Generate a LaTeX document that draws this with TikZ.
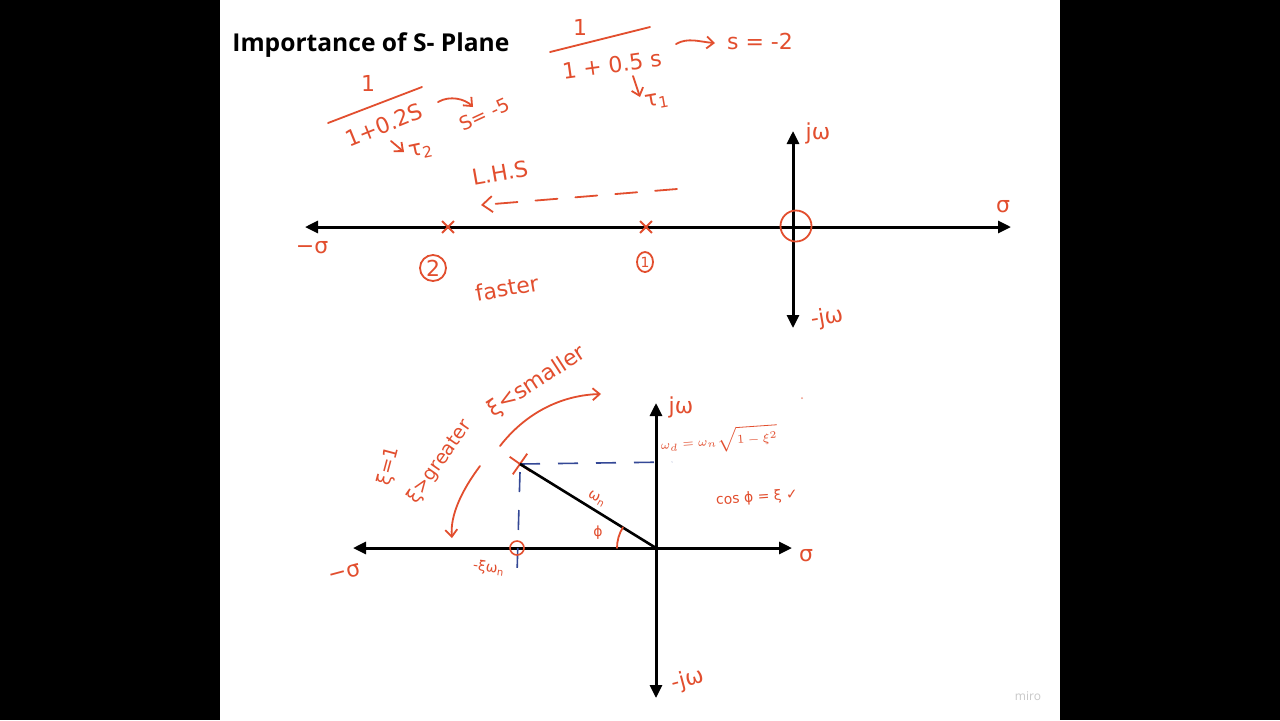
\documentclass[tikz,border=0pt]{standalone}
\usepackage{fontspec}
\setmainfont{Open Sans}
\newfontfamily\handf{DejaVu Sans}
\usetikzlibrary{arrows.meta,shapes.misc,shapes.geometric}
\definecolor{hand}{RGB}{226,78,46}
\definecolor{dashblue}{RGB}{52,72,150}
\definecolor{wm}{RGB}{200,200,200}
\begin{document}
\begin{tikzpicture}[x=0.5pt,y=-0.5pt,
  axis/.style={line width=1.5pt,-{Triangle[length=6.5pt,width=6pt]}},
  hw/.style={text=hand,font=\handf\fontsize{11}{13}\selectfont,inner sep=0pt},
  hwm/.style={text=hand,font=\handf\fontsize{9.5}{11}\selectfont,inner sep=0pt},
  hws/.style={text=hand,font=\handf\fontsize{7}{8}\selectfont,inner sep=0pt},
  hline/.style={draw=hand,line width=0.9pt,line cap=round},
  harrow/.style={hline,-{Straight Barb[length=3.5pt,width=6pt]}},
  xmark/.style={cross out,draw=hand,line width=0.9pt,inner sep=0pt},
  bluedash/.style={draw=dashblue,line width=0.8pt,dash pattern=on 10pt off 9pt}]
% page
\fill[black] (0,0) rectangle (1280,720);
\fill[white] (220,0) rectangle (1060,720);
\useasboundingbox (0,0) rectangle (1280,720);
% title
\node[anchor=west,inner sep=0pt,font=\bfseries\fontsize{12.3}{14}\selectfont] (title) at (232,45) {Importance of S- Plane};
% ---------- upper axes ----------
\coordinate (uo) at (793,227);
\coordinate (uL) at (305,227);
\coordinate (uR) at (1011,227);
\coordinate (uT) at (793,131);
\coordinate (uB) at (793,328);
\draw[axis] (uo) -- (uL);
\draw[axis] (uo) -- (uR);
\draw[axis] (uo) -- (uT);
\draw[axis] (uo) -- (uB);
\node[hw] (ujw) at (818,133) {jω};
\node[hw] (usig) at (1003,207) {σ};
\node[hw,rotate=10] (unjw) at (827,318) {-jω};
\node[hw] (unsig) at (312,248) {−σ};
\node[circle,draw=hand,line width=0.9pt,minimum size=15.5pt,inner sep=0pt] (oc) at (796,226) {};
% poles
\node[xmark,minimum size=5pt] (p2) at (448,227) {};
\node[xmark,minimum size=5pt] (p1) at (646,227) {};
\node[circle,draw=hand,line width=0.9pt,minimum size=13pt,inner sep=0pt,hw] (c2) at (433,268) {2};
\node[ellipse,draw=hand,line width=0.9pt,minimum width=8pt,minimum height=10pt,inner sep=0pt,hws] (c1) at (645,262) {1};
\node[hw,rotate=10] (fast) at (507,288) {faster};
% LHS arrow
\node[hw,rotate=10] (lhs) at (500,173) {L.H.S};
\coordinate (lhsR) at (677,189);
\coordinate (lhsL) at (481,205);
\draw[hline,dash pattern=on 11pt off 9pt,-{Straight Barb[length=5pt,width=8pt]}] (lhsR) -- (lhsL);
% top fraction 1/(1+0.5s)
\node[hw] (f1num) at (580,27) {1};
\draw[hline] (550,52) -- (650,27);
\node[hw,rotate=8] (f1den) at (612,65) {1 + 0.5 s};
\node[hw] (s2) at (760,41) {s = -2};
\coordinate (a1s) at (676,44);
\coordinate (a1e) at (715,43);
\draw[harrow] (a1s) .. controls (688,37) and (700,42) .. (a1e);
\coordinate (d1s) at (633,76);
\coordinate (d1e) at (640,97);
\draw[harrow] (d1s) -- (d1e);
\node[hw,rotate=10] (tau1) at (657,101) {τ\textsubscript{1}};
% left fraction 1/(1+0.2s)
\node[hw] (f2num) at (368,83) {1};
\draw[hline] (328,123) -- (422,87);
\node[hw,rotate=22] (f2den) at (384,125) {1+0.2S};
\coordinate (a2s) at (438,102);
\coordinate (a2e) at (473,107);
\draw[harrow] (a2s) .. controls (450,95) and (465,99) .. (a2e);
\node[hwm,rotate=25] (s5) at (485,114) {S= -5};
\coordinate (d2s) at (391,141);
\coordinate (d2e) at (404,152);
\draw[harrow] (d2s) -- (d2e);
\node[hw,rotate=12] (tau2) at (421,151) {τ\textsubscript{2}};
% ---------- lower axes ----------
\coordinate (lo) at (656,548);
\coordinate (lL) at (353,548);
\coordinate (lR) at (792,548);
\coordinate (lT) at (656,403);
\coordinate (lB) at (656,698);
\draw[axis] (lo) -- (lL);
\draw[axis] (lo) -- (lR);
\draw[axis] (lo) -- (lT);
\draw[axis] (lo) -- (lB);
\node[hw] (ljw) at (681,407) {jω};
\node[hw] (lsig) at (806,556) {σ};
\node[hw,rotate=15] (lnjw) at (688,680) {-jω};
\node[hw,rotate=15] (lnsig) at (345,573) {−σ};
% pole and geometry
\node[xmark,minimum size=8pt,rotate=10] (pc) at (520,464) {};
\draw[bluedash] (pc.center) -- (672,462);
\draw[bluedash] (pc.center) ++(0,8) -- (517,574);
\draw[line width=1.3pt] (pc.center) -- (lo);
\node[circle,draw=hand,line width=0.8pt,minimum size=7pt,inner sep=0pt] (sc) at (517,548) {};
\node[hws,rotate=-8] (xwn) at (489,568) {-ξω\textsubscript{n}};
\node[hws,rotate=-30] (wn) at (597,499) {ω\textsubscript{n}};
\node[hws] (phi) at (598,533) {ϕ};
\draw[hline] (617,548) arc[start angle=180,end angle=212,radius=39];
\node[hw,font=\fontsize{6.5}{8}\selectfont,rotate=4] (wd) at (719,440) {$\omega_d=\omega_n\sqrt{1-\xi^2}$};
\node[hws,rotate=4] (cosphi) at (757,498) {cos ϕ = ξ ✓};
\fill[hand!60] (802,398) circle[radius=1];
% damping annotations
\node[hw,rotate=33] (smaller) at (537,382) {ξ<smaller};
\coordinate (sas) at (500,446);
\coordinate (sae) at (601,394);
\draw[harrow] (sas) .. controls (528,410) and (565,395) .. (sae);
\node[hwm,rotate=75] (xi1) at (389,466) {ξ=1};
\node[hwm,rotate=55] (greater) at (440,462) {ξ>greater};
\coordinate (gas) at (480,466);
\coordinate (gae) at (452,538);
\draw[harrow] (gas) .. controls (462,490) and (450,515) .. (gae);
% watermark
\node[text=wm,font=\fontsize{6}{7}\selectfont,inner sep=0pt] (miro) at (1028,696) {miro};
\end{tikzpicture}
\end{document}
